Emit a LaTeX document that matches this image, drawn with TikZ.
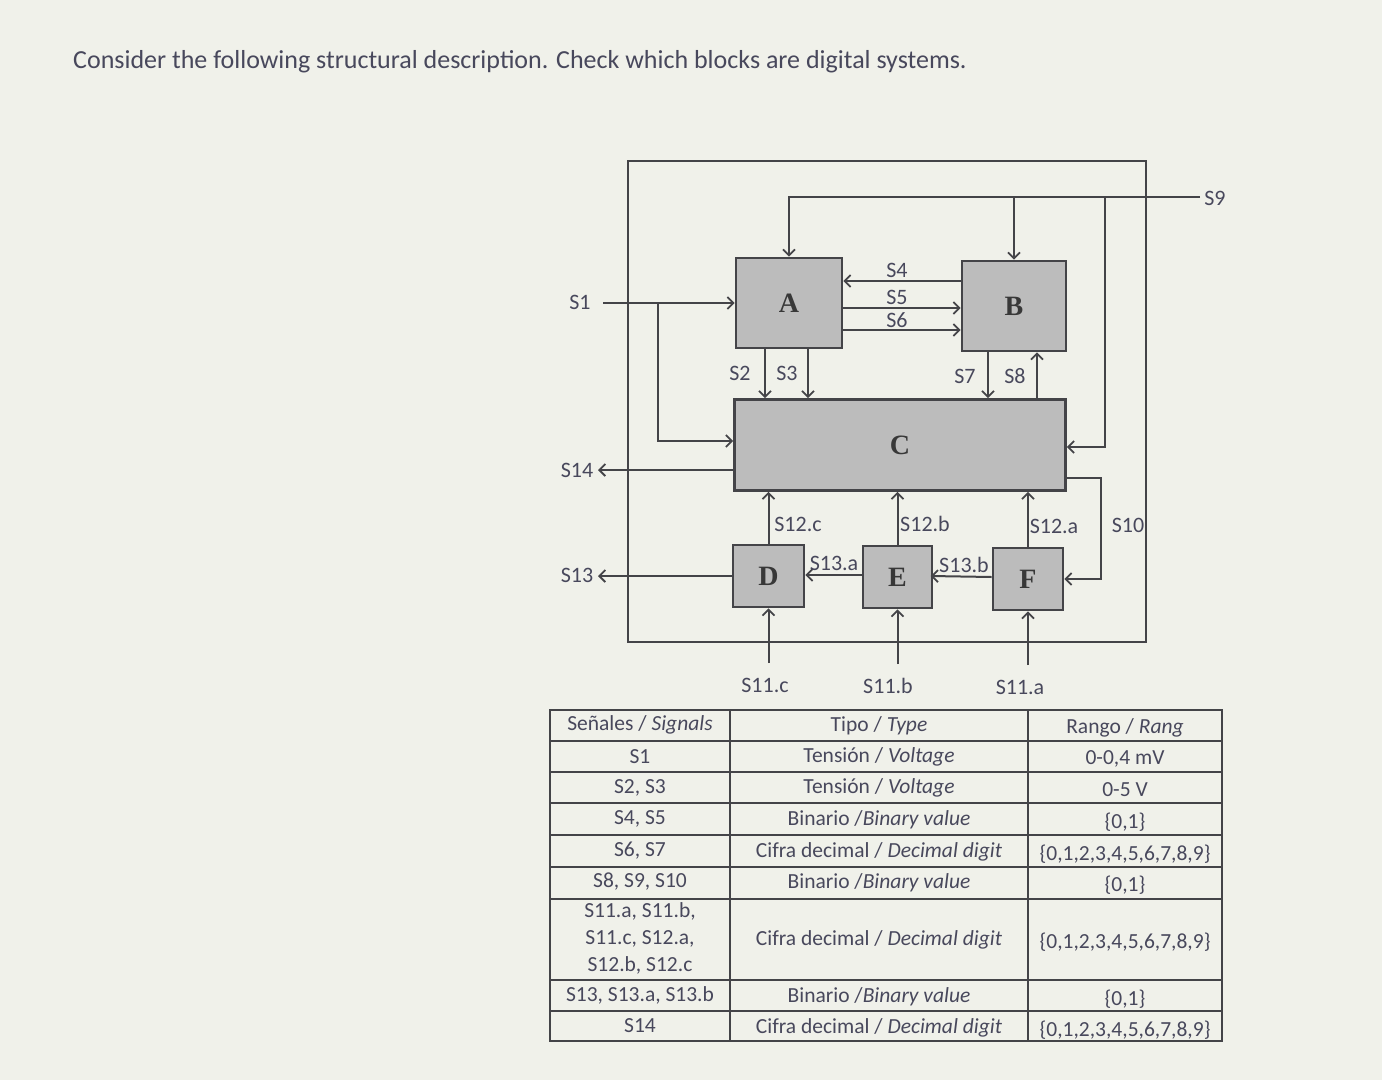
\documentclass[tikz,border=0pt]{standalone}
\usepackage{fontspec}
\setmainfont{Carlito}
\newfontfamily\blockfont{Liberation Serif}
\usetikzlibrary{arrows.meta,calc}
\definecolor{bgc}{RGB}{240,241,234}
\definecolor{linec}{RGB}{68,68,72}
\definecolor{txtc}{RGB}{72,72,92}
\definecolor{boxc}{RGB}{188,188,188}
\begin{document}
\begin{tikzpicture}[x=1pt,y=-1pt,
  blk/.style={draw=linec, line width=2.6pt, fill=boxc, inner sep=0pt, font=\blockfont\bfseries\fontsize{28pt}{32pt}\selectfont, text=black!78},
  arr/.style={draw=linec, line width=2pt, -{Straight Barb[length=6pt,width=12pt,line width=1.8pt]}},
  lbl/.style={text=txtc, inner sep=0pt, font=\fontsize{22pt}{26pt}\selectfont},
  tcell/.style={text=txtc, inner sep=0pt, align=center, font=\fontsize{21.5pt}{27pt}\selectfont},
  tline/.style={draw=linec, line width=1.6pt}]
\useasboundingbox (0,0) rectangle (1382,1080);
\fill[bgc] (0,0) rectangle (1382,1080);

% title
\node[anchor=west, text=txtc, inner sep=0pt, font=\fontsize{26pt}{30pt}\selectfont] (title) at (73,62)
  {Consider the following structural description. Check which blocks are digital systems.};

% outer system frame
\node[draw=linec, line width=2.6pt, minimum width=518pt, minimum height=481pt, inner sep=0pt] (sys) at (887,401.5) {};

% blocks
\node[blk, minimum width=106pt, minimum height=90pt] (A) at (789,303) {A};
\node[blk, minimum width=104pt, minimum height=90pt] (B) at (1014,306) {B};
\node[blk, minimum width=331pt, minimum height=91pt] (C) at (900,445) {C};
\node[blk, minimum width=71pt, minimum height=62pt] (D) at (768.5,576) {D};
\node[blk, minimum width=69pt, minimum height=62pt] (E) at (897.5,577) {E};
\node[blk, minimum width=70pt, minimum height=62pt] (F) at (1028,579) {F};

% coordinates for free ends / taps
\coordinate (s9end) at (1200,197);
\coordinate (s9tap) at (1105,197);
\coordinate (s1in) at (603,303);
\coordinate (s1tap) at (658,303);
\coordinate (s14out) at (598,470);
\coordinate (s13out) at (598,576);
\coordinate (s10c) at (1101,478);
\coordinate (s11c) at (768.5,663);
\coordinate (s11b) at (897.5,664);
\coordinate (s11a) at (1028,665);

% S9
\draw[arr] (s9end) -| (A.north);
\draw[arr] (B.north |- s9end) -- (B.north);
\draw[arr] (s9tap) |- ($(C.east)+(0,2)$);
% S4 S5 S6
\draw[arr] ($(B.west)+(0,-25)$) -- ($(A.east)+(0,-22)$);
\draw[arr] ($(A.east)+(0,5)$) -- ($(B.west)+(0,2)$);
\draw[arr] ($(A.east)+(0,27)$) -- ($(B.west)+(0,24)$);
% S1
\draw[arr] (s1in) -- (A.west);
\draw[arr] (s1tap) |- ($(C.west)+(0,-4)$);
% S2 S3
\draw[arr] ($(A.south)+(-24,0)$) coordinate (s2a) -- (s2a |- C.north);
\draw[arr] ($(A.south)+(19,0)$) coordinate (s3a) -- (s3a |- C.north);
% S7 S8
\draw[arr] ($(B.south)+(-26,0)$) coordinate (s7a) -- (s7a |- C.north);
\draw[arr] ($(B.south)+(23,0)$) coordinate (s8a) (s8a |- C.north) -- (s8a);
% S14
\draw[arr] (C.west |- s14out) -- (s14out);
% S10
\draw[arr] (C.east |- s10c) -- (s10c) |- (F.east);
% S12
\draw[arr] (D.north) -- (D.north |- C.south);
\draw[arr] (E.north) -- (E.north |- C.south);
\draw[arr] (F.north) -- (F.north |- C.south);
% S13
\draw[arr] ($(E.west)+(0,-2)$) -- ($(D.east)+(0,-1)$);
\draw[arr] ($(F.west)+(0,-2)$) -- ($(E.west)+(69,-1)$);
\draw[arr] (D.west) -- (s13out);
% S11
\draw[arr] (s11c) -- (D.south);
\draw[arr] (s11b) -- (E.south);
\draw[arr] (s11a) -- (F.south);

% signal labels
\node[lbl] (lS1) at (580,302) {S1};
\node[lbl] (lS14) at (577,470) {S14};
\node[lbl] (lS13) at (577,575) {S13};
\node[lbl] (lS9) at (1215,198) {S9};
\node[lbl] (lS10) at (1128,525) {S10};
\node[lbl] (lS2) at (740,373) {S2};
\node[lbl] (lS3) at (787,373) {S3};
\node[lbl] (lS7) at (965,376) {S7};
\node[lbl] (lS8) at (1015,376) {S8};
\node[lbl] (lS4) at (897,270) {S4};
\node[lbl] (lS5) at (897,297) {S5};
\node[lbl] (lS6) at (897,320) {S6};
\node[lbl] (lS12c) at (798,524) {S12.c};
\node[lbl] (lS12b) at (925,524) {S12.b};
\node[lbl] (lS12a) at (1054,526) {S12.a};
\node[lbl] (lS13a) at (834,563) {S13.a};
\node[lbl] (lS13b) at (964,565) {S13.b};
\node[lbl] (lS11c) at (765,685) {S11.c};
\node[lbl] (lS11b) at (888,686) {S11.b};
\node[lbl] (lS11a) at (1020,687) {S11.a};

% table grid
\draw[tline] (550,710) rectangle (1222,1041);
\foreach \yy in {741,772,803,835,867,899,980,1011}
  \draw[tline] (550,\yy) -- (1222,\yy);
\draw[tline] (730,710) -- (730,1041);
\draw[tline] (1028,710) -- (1028,1041);

% table text
\node[tcell] (h1) at (640,725) {Señales / \textit{Signals}};
\node[tcell] (h2) at (879,726) {Tipo / \textit{Type}};
\node[tcell] (h3) at (1125,728) {Rango / \textit{Rang}};

\node[tcell] (r11) at (640,757) {S1};
\node[tcell] (r12) at (879,757) {Tensión / \textit{Voltage}};
\node[tcell] (r13) at (1125,759) {0-0,4 mV};

\node[tcell] (r21) at (640,788) {S2, S3};
\node[tcell] (r22) at (879,788) {Tensión / \textit{Voltage}};
\node[tcell] (r23) at (1125,790) {0-5 V};

\node[tcell] (r31) at (640,819) {S4, S5};
\node[tcell] (r32) at (879,820) {Binario /\textit{Binary value}};
\node[tcell] (r33) at (1125,822) {\{0,1\}};

\node[tcell] (r41) at (640,851) {S6, S7};
\node[tcell] (r42) at (879,852) {Cifra decimal / \textit{Decimal digit}};
\node[tcell] (r43) at (1125,854) {\{0,1,2,3,4,5,6,7,8,9\}};

\node[tcell] (r51) at (640,882) {S8, S9, S10};
\node[tcell] (r52) at (879,883) {Binario /\textit{Binary value}};
\node[tcell] (r53) at (1125,885) {\{0,1\}};

\node[tcell] (r61) at (640,938) {S11.a, S11.b,\\S11.c, S12.a,\\S12.b, S12.c};
\node[tcell] (r62) at (879,940) {Cifra decimal / \textit{Decimal digit}};
\node[tcell] (r63) at (1125,942) {\{0,1,2,3,4,5,6,7,8,9\}};

\node[tcell] (r71) at (640,995) {S13, S13.a, S13.b};
\node[tcell] (r72) at (879,997) {Binario /\textit{Binary value}};
\node[tcell] (r73) at (1125,999) {\{0,1\}};

\node[tcell] (r81) at (640,1026) {S14};
\node[tcell] (r82) at (879,1028) {Cifra decimal / \textit{Decimal digit}};
\node[tcell] (r83) at (1125,1030) {\{0,1,2,3,4,5,6,7,8,9\}};
\end{tikzpicture}
\end{document}
